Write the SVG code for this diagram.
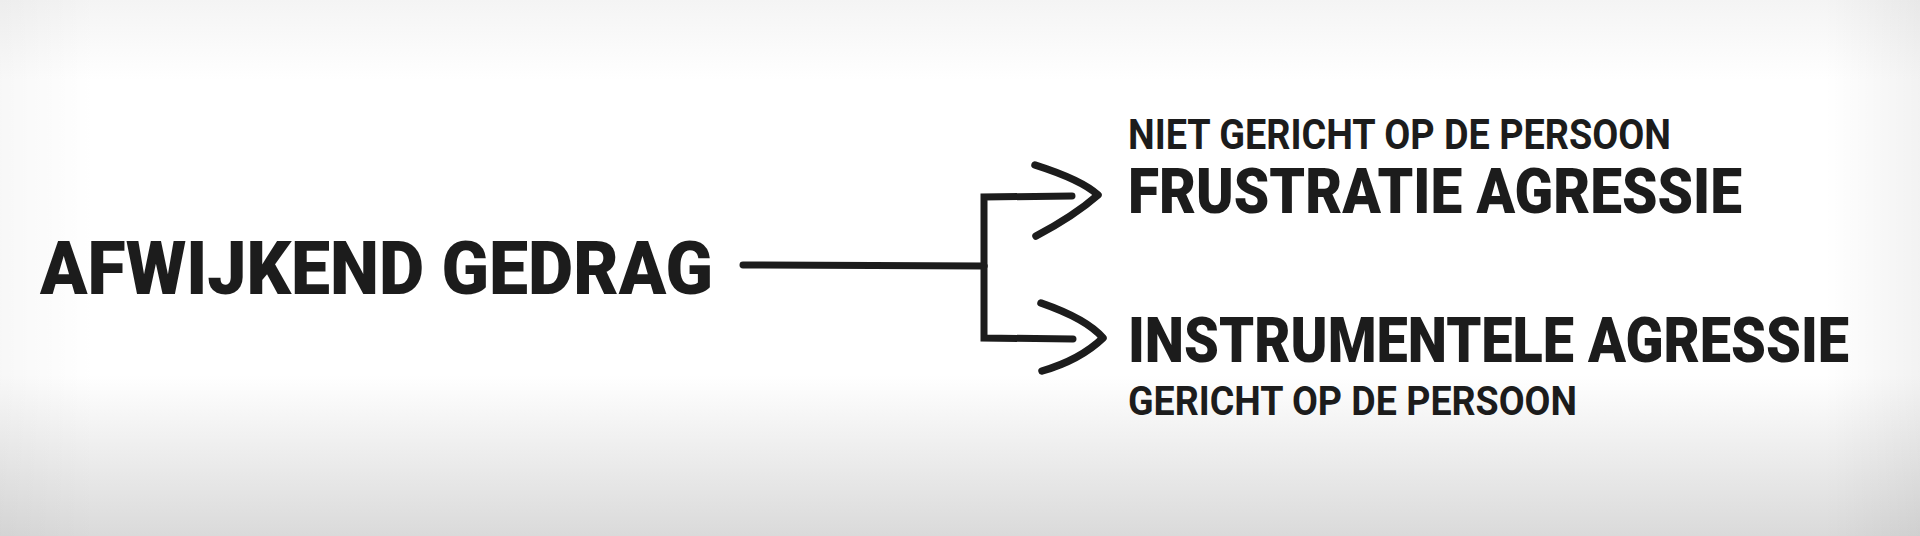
<svg xmlns="http://www.w3.org/2000/svg" width="1920" height="536" viewBox="0 0 1920 536">
  <defs>
    <linearGradient id="bg" x1="0" y1="0" x2="0" y2="1">
      <stop offset="0" stop-color="#f4f4f4"/>
      <stop offset="0.15" stop-color="#ffffff"/>
      <stop offset="0.70" stop-color="#ffffff"/>
      <stop offset="1" stop-color="#dadada"/>
    </linearGradient>
    <linearGradient id="side" x1="0" y1="0" x2="1" y2="0">
      <stop offset="0" stop-color="#000" stop-opacity="0.03"/>
      <stop offset="0.05" stop-color="#000" stop-opacity="0"/>
      <stop offset="0.95" stop-color="#000" stop-opacity="0"/>
      <stop offset="1" stop-color="#000" stop-opacity="0.05"/>
    </linearGradient>
  </defs>
  <style>
    .big { font-family: Roboto, "Liberation Sans", sans-serif; font-weight: 900; fill: #1c1c1c; }
    .small { font-family: Roboto, "Liberation Sans", sans-serif; font-weight: 700; fill: #1c1c1c; }
    .line { fill: none; stroke: #1c1c1c; stroke-width: 7; stroke-linecap: round; stroke-linejoin: miter; }
    .head { fill: none; stroke: #1c1c1c; stroke-width: 7.5; stroke-linecap: round; stroke-linejoin: round; }
  </style>
  <rect width="1920" height="536" fill="url(#bg)"/>
  <rect width="1920" height="536" fill="url(#side)"/>

  <g id="connectors">
    <path class="line" d="M743 265 L984 266"/>
    <path class="line" d="M984 266 L984 197 L1072 196"/>
    <path class="line" d="M984 266 L984 338 L1073 339"/>
    <path class="head" d="M1035 165 Q1082 180 1098 195 Q1074 216 1036 236"/>
    <path class="head" d="M1041 303 Q1087 319 1103 338 Q1080 360 1042 371"/>
  </g>

  <g id="node-afwijkend">
    <text class="big" x="40" y="294" font-size="75" textLength="673" lengthAdjust="spacingAndGlyphs">AFWIJKEND GEDRAG</text>
  </g>
  <g id="node-frustratie">
    <text class="small" x="1128" y="149" font-size="43" textLength="543" lengthAdjust="spacingAndGlyphs">NIET GERICHT OP DE PERSOON</text>
    <text class="big" x="1128" y="213" font-size="63" textLength="614" lengthAdjust="spacingAndGlyphs">FRUSTRATIE AGRESSIE</text>
  </g>
  <g id="node-instrumentele">
    <text class="big" x="1128" y="362" font-size="63" textLength="721" lengthAdjust="spacingAndGlyphs">INSTRUMENTELE AGRESSIE</text>
    <text class="small" x="1128" y="415" font-size="41" textLength="449" lengthAdjust="spacingAndGlyphs">GERICHT OP DE PERSOON</text>
  </g>
</svg>
